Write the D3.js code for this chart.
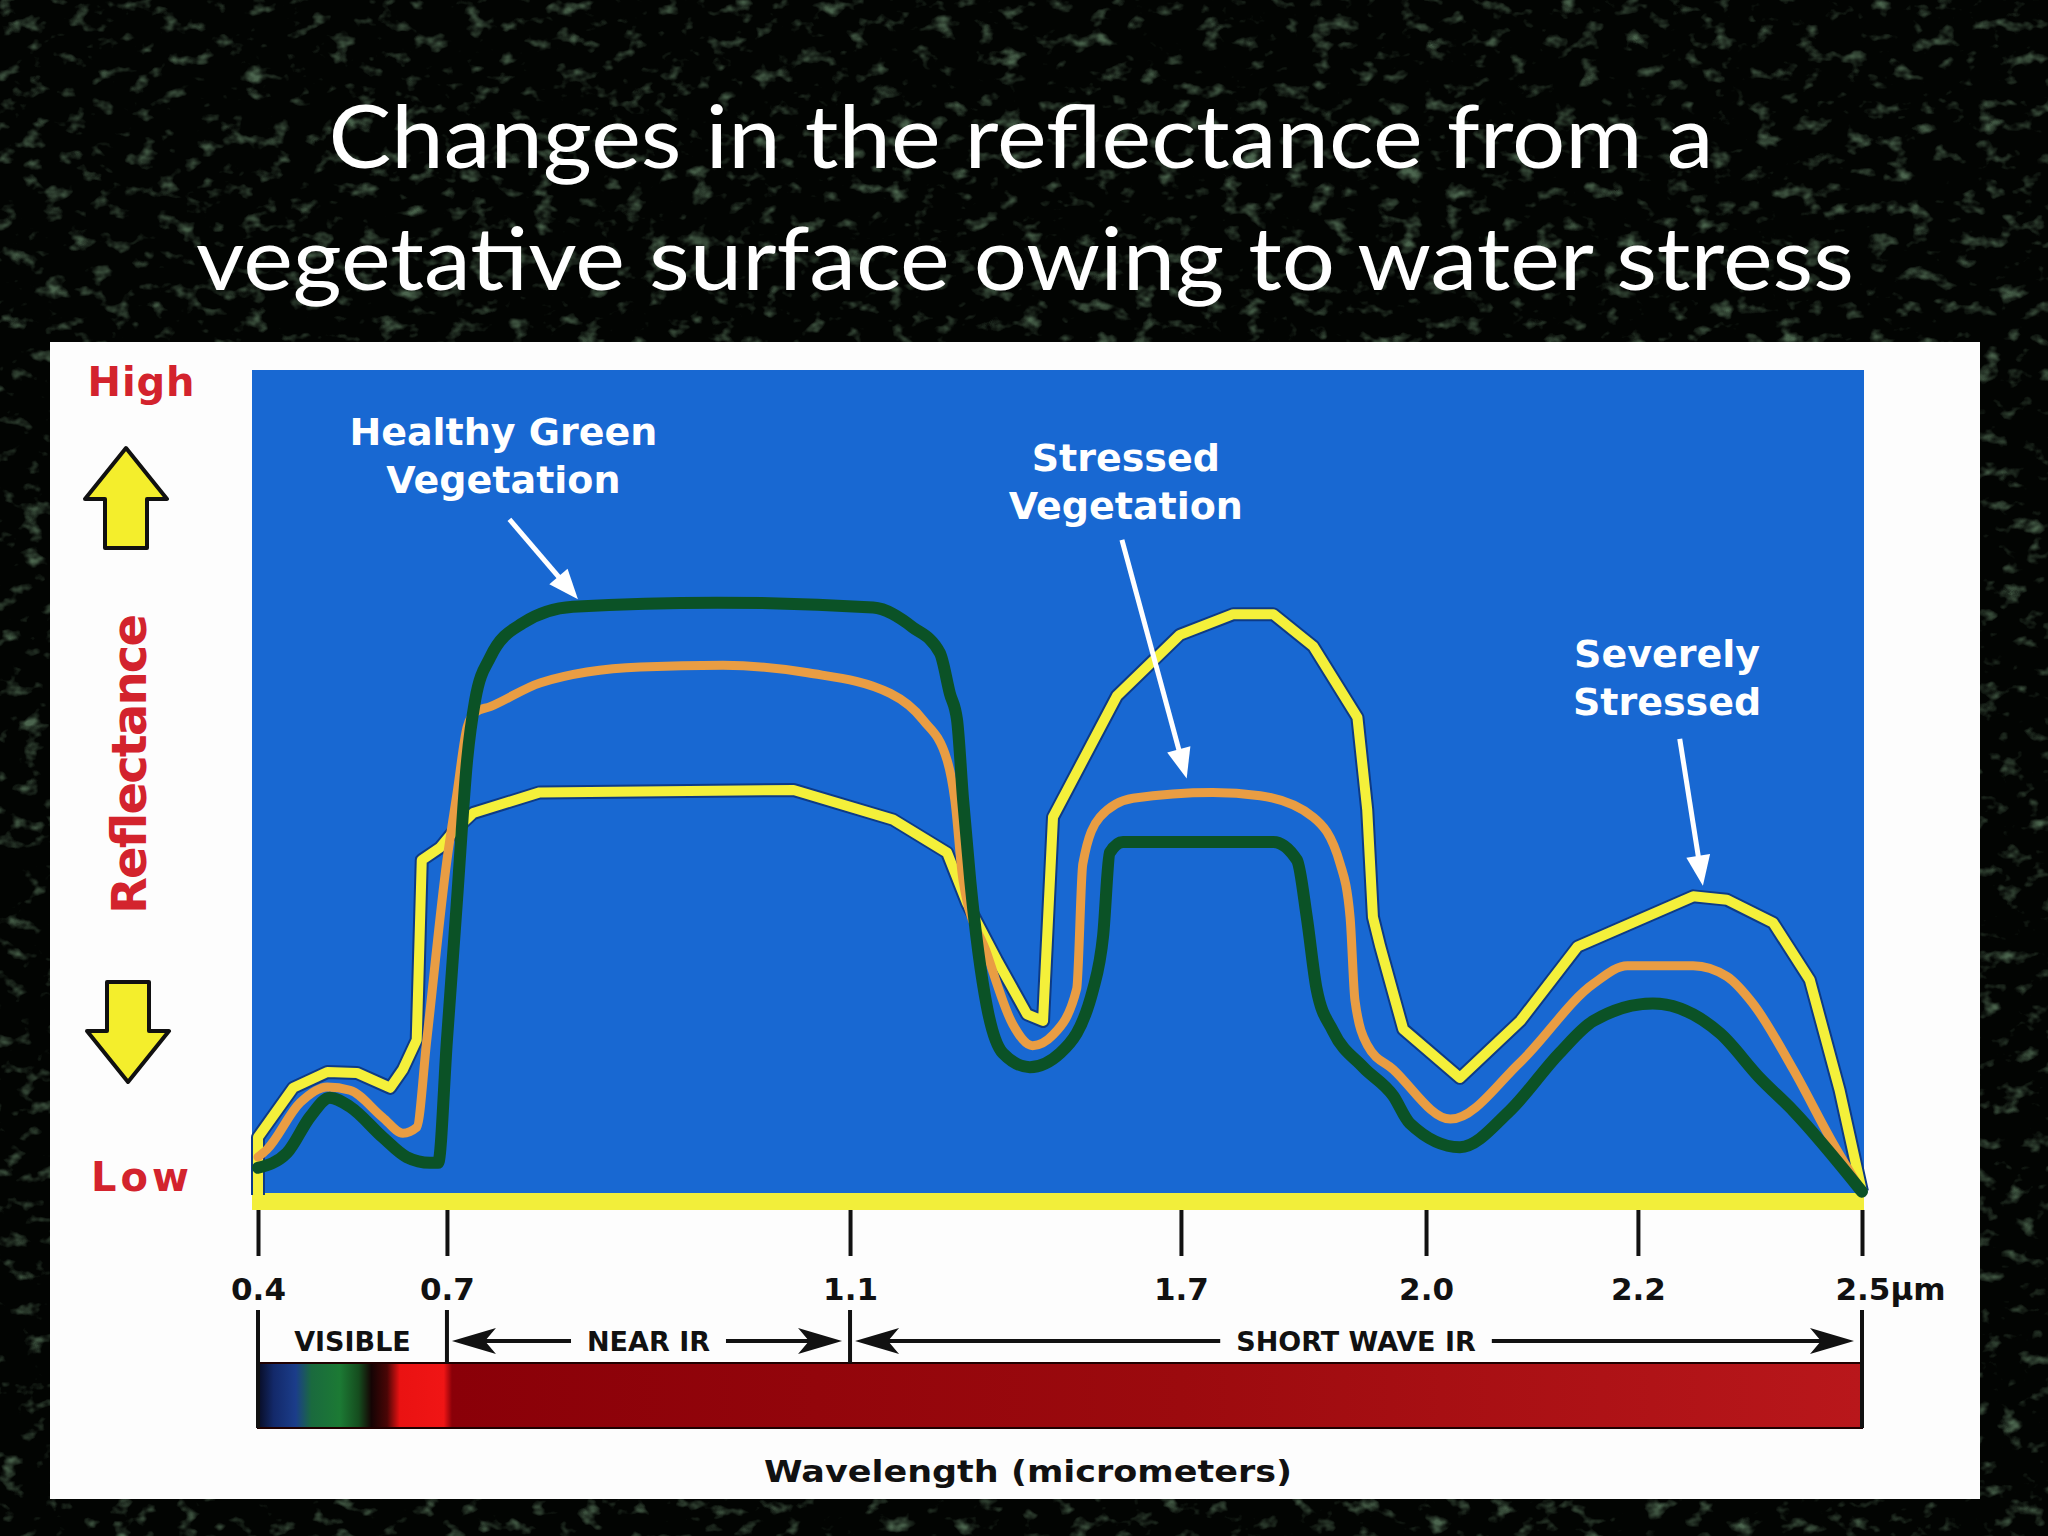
<!DOCTYPE html>
<html>
<head>
<meta charset="utf-8">
<script src="https://cdn.jsdelivr.net/npm/d3@7"></script>
<style>
  html, body { margin: 0; padding: 0; background: #000; }
  svg { display: block; }
  .chartText { font-family: 'DejaVu Sans', sans-serif; font-weight: bold; }
  .title { font-family: Lato, 'Open Sans', sans-serif; fill: #fff; }
</style>
</head>
<body>
<svg id="slide"></svg>
<script>
// wavelength in micrometers, reflectance relative (0 = Low, 100 = High)
const wavelengthTicks = [0.4, 0.7, 1.1, 1.7, 2.0, 2.2, 2.5];
const tickLabels = ['0.4', '0.7', '1.1', '1.7', '2.0', '2.2', '2.5μm'];

const healthy = [[0.400,3.3],[0.446,5.1],[0.483,9.5],[0.514,11.8],[0.546,10.7],[0.598,7.0],[0.636,4.6],
  [0.673,3.9],[0.686,3.9],[0.700,18.8],[0.710,35.8],[0.720,52.7],[0.728,60.0],[0.743,65.2],[0.775,69.3],
  [0.825,71.3],[0.968,71.8],[1.142,71.2],[1.214,68.8],[1.263,65.7],[1.281,60.8],[1.294,57.6],[1.305,47.9],
  [1.318,38.1],[1.348,22.9],[1.377,17.2],[1.426,15.5],[1.481,17.2],[1.541,25.0],[1.559,31.5],[1.571,41.5],
  [1.595,42.8],[1.813,42.8],[1.842,40.6],[1.854,33.7],[1.866,25.0],[1.886,19.9],[1.923,15.5],[1.960,12.0],
  [1.980,8.7],[2.032,5.8],[2.079,10.2],[2.126,17.2],[2.158,21.1],[2.220,23.2],[2.310,19.6],[2.363,14.2],
  [2.408,10.2],[2.5,0.4]];

const stressed = [[0.400,4.6],[0.414,5.5],[0.467,11.2],[0.510,13.1],[0.546,12.7],[0.598,9.4],[0.630,7.5],
  [0.652,8.2],[0.668,18.8],[0.700,40.6],[0.710,48.7],[0.720,56.7],[0.728,58.5],[0.743,59.2],[0.793,62.1],
  [0.892,64.0],[0.974,64.2],[1.058,63.3],[1.173,60.8],[1.232,57.6],[1.276,52.7],[1.290,47.9],[1.305,38.1],
  [1.348,29.3],[1.395,20.7],[1.431,18.1],[1.468,19.4],[1.511,25.0],[1.522,40.1],[1.553,45.8],[1.613,48.1],
  [1.739,48.8],[1.797,48.4],[1.862,45.8],[1.895,40.1],[1.907,33.7],[1.913,23.6],[1.928,18.2],[1.960,15.2],
  [2.023,9.2],[2.089,16.1],[2.158,25.6],[2.190,27.8],[2.274,27.8],[2.319,26.5],[2.354,23.2],[2.408,15.2],
  [2.461,6.3],[2.5,0.4]];

const severe = [[0.400,0],[0.400,7.0],[0.456,13.0],[0.510,14.9],[0.557,14.8],[0.610,13.0],[0.630,15.2],
  [0.652,18.8],[0.660,40.6],[0.689,42.1],[0.706,44.0],[0.726,46.3],[0.792,48.8],[1.044,49.1],[1.178,45.5],
  [1.276,41.5],[1.312,35.4],[1.366,28.5],[1.421,21.9],[1.450,21.1],[1.468,45.8],[1.584,60.5],[1.698,67.9],
  [1.764,70.4],[1.813,70.4],[1.862,66.5],[1.916,57.9],[1.928,46.7],[1.935,33.7],[1.944,30.1],[1.972,20.1],
  [2.032,14.2],[2.089,21.1],[2.143,30.1],[2.274,36.2],[2.319,35.8],[2.381,33.0],[2.430,26.1],[2.470,12.7],
  [2.5,0.4]];

const regions = [
  {name: 'VISIBLE', from: 0.4, to: 0.7, arrows: false},
  {name: 'NEAR IR', from: 0.7, to: 1.1, arrows: true},
  {name: 'SHORT WAVE IR', from: 1.1, to: 2.5, arrows: true}
];

// colour of the wavelength strip under the axis
const spectrum = [[0.4,'#080c24'],[0.425,'#13296a'],[0.46,'#1b3d8a'],[0.485,'#1a6a3e'],[0.53,'#1c7a34'],
  [0.56,'#154c1e'],[0.58,'#150404'],[0.605,'#4a0606'],[0.625,'#ea1212'],[0.695,'#f01515'],[0.705,'#8a0008'],
  [1.7,'#9c0a0e'],[2.5,'#b9171b']];

const annotations = [
  {lines: ['Healthy Green', 'Vegetation'], at: [0.756, 90.9], from: [0.762, 81.9], to: [0.830, 72.2]},
  {lines: ['Stressed', 'Vegetation'], at: [1.600, 87.8], from: [1.593, 79.4], to: [1.707, 50.5]},
  {lines: ['Severely', 'Stressed'], at: [2.239, 64.0], from: [2.256, 55.3], to: [2.287, 37.5]}
];

const titleLines = ['Changes in the reflectance from a', 'vegetative surface owing to water stress'];

let W = 2048, H = 1536;
let layout = {
  panel: {x: 50, y: 342, w: 1930, h: 1157},
  plotLeft: 258, plotRight: 1862, plotTop: 370, plotBottom: 1195,
  tickFrac: [0, 0.1178, 0.3691, 0.5754, 0.7282, 0.8603, 1],
  tickTop: 1210,
  rowTop: 1310, barTop: 1363, barBottom: 1428, rowMid: 1341,
  titleBase: [168, 290], titleCenter: [1021, 1025], titleWidth: [1385, 1658]
};

let svg = d3.select('#slide')
  .attr('width', W)
  .attr('height', H);
let defs = svg.append('defs');

// dark forest background
svg.append('rect')
  .attr('width', W)
  .attr('height', H)
  .attr('fill', '#020402');
let foliage = defs.append('filter')
  .attr('id', 'foliage')
  .attr('x', 0).attr('y', 0).attr('width', '100%').attr('height', '100%');
foliage.append('feTurbulence')
  .attr('type', 'fractalNoise')
  .attr('baseFrequency', '0.045 0.06')
  .attr('numOctaves', 3)
  .attr('seed', 11);
foliage.append('feColorMatrix')
  .attr('type', 'matrix')
  .attr('values', '0 0 0 0 0.13  0 0 0 0 0.24  0 0 0 0 0.14  3.2 0 0 0 -1.85');
svg.append('rect')
  .attr('width', W)
  .attr('height', H)
  .attr('opacity', 0.75)
  .attr('filter', 'url(#foliage)');

// title
svg.selectAll('.title')
  .data(titleLines)
  .join('text')
  .attr('class', 'title')
  .attr('x', (d, i) => layout.titleCenter[i])
  .attr('y', (d, i) => layout.titleBase[i])
  .attr('text-anchor', 'middle')
  .attr('font-size', 88)
  .attr('textLength', (d, i) => layout.titleWidth[i])
  .attr('lengthAdjust', 'spacingAndGlyphs')
  .text(d => d);

// white card
svg.append('rect')
  .attr('x', layout.panel.x)
  .attr('y', layout.panel.y)
  .attr('width', layout.panel.w)
  .attr('height', layout.panel.h)
  .attr('fill', '#fdfdfd');

let x = d3.scaleLinear()
  .domain(wavelengthTicks)
  .range(layout.tickFrac.map(f => layout.plotLeft + f * (layout.plotRight - layout.plotLeft)));
let y = d3.scaleLinear()
  .domain([0, 100])
  .range([layout.plotBottom, layout.plotTop]);

let x0 = x(wavelengthTicks[0]);
let x1 = x(wavelengthTicks[wavelengthTicks.length - 1]);

// blue plot field and yellow base line
svg.append('rect')
  .attr('x', x0 - 6)
  .attr('y', y(100))
  .attr('width', x1 - x0 + 8)
  .attr('height', y(0) - y(100))
  .attr('fill', '#1868d2');
svg.append('rect')
  .attr('x', x0 - 6)
  .attr('y', y(0) - 2)
  .attr('width', x1 - x0 + 8)
  .attr('height', 17)
  .attr('fill', '#f2ee3a');

// reflectance curves
let seriesList = [
  {data: severe, color: '#f4f03a', width: 10, halo: '#0d3a86', curve: d3.curveLinear},
  {data: stressed, color: '#e99d43', width: 9, halo: null, curve: d3.curveMonotoneX},
  {data: healthy, color: '#0b5226', width: 12, halo: null, curve: d3.curveMonotoneX}
];
let curves = svg.append('g').attr('id', 'curves');
for (let s of seriesList) {
  let line = d3.line()
    .x(d => x(d[0]))
    .y(d => y(d[1]))
    .curve(s.curve);
  if (s.halo) {
    curves.append('path')
      .datum(s.data)
      .attr('d', line)
      .attr('fill', 'none')
      .attr('stroke', s.halo)
      .attr('stroke-width', s.width + 4)
      .attr('stroke-linejoin', 'round');
  }
  curves.append('path')
    .datum(s.data)
    .attr('d', line)
    .attr('fill', 'none')
    .attr('stroke', s.color)
    .attr('stroke-width', s.width)
    .attr('stroke-linejoin', 'round')
    .attr('stroke-linecap', 'round');
}

// annotations with white arrows
function arrowHead(tip, from, len, half) {
  let dx = tip[0] - from[0], dy = tip[1] - from[1];
  let n = Math.hypot(dx, dy);
  let ux = dx / n, uy = dy / n;
  let bx = tip[0] - ux * len, by = tip[1] - uy * len;
  return {
    base: [bx + ux * 2, by + uy * 2],
    pts: [tip, [bx - uy * half, by + ux * half], [bx + uy * half, by - ux * half]]
  };
}
let annG = svg.append('g').attr('id', 'annotations');
for (let a of annotations) {
  annG.selectAll(null)
    .data(a.lines)
    .join('text')
    .attr('class', 'chartText')
    .attr('x', x(a.at[0]))
    .attr('y', (d, i) => y(a.at[1]) + i * 48)
    .attr('text-anchor', 'middle')
    .attr('font-size', 38)
    .attr('fill', '#ffffff')
    .text(d => d);
  let from = [x(a.from[0]), y(a.from[1])];
  let tip = [x(a.to[0]), y(a.to[1])];
  let head = arrowHead(tip, from, 30, 12);
  annG.append('line')
    .attr('x1', from[0]).attr('y1', from[1])
    .attr('x2', head.base[0]).attr('y2', head.base[1])
    .attr('stroke', '#ffffff')
    .attr('stroke-width', 5);
  annG.append('polygon')
    .attr('points', head.pts.map(p => p.join(',')).join(' '))
    .attr('fill', '#ffffff');
}

// x axis ticks and labels
let xAxis = d3.axisBottom(x)
  .tickValues(wavelengthTicks)
  .tickFormat((d, i) => tickLabels[i])
  .tickSize(46)
  .tickPadding(22);
let axisG = svg.append('g')
  .attr('transform', `translate(0,${layout.tickTop})`)
  .call(xAxis)
  .attr('font-size', null)
  .attr('font-family', null);
axisG.select('.domain').remove();
axisG.selectAll('.tick line')
  .attr('stroke', '#111')
  .attr('stroke-width', 4);
axisG.selectAll('.tick text')
  .attr('class', 'chartText')
  .attr('font-size', 31)
  .attr('fill', '#111');
axisG.selectAll('.tick text')
  .filter((d, i, n) => i === n.length - 1)
  .attr('text-anchor', 'start')
  .attr('x', -27);

// wavelength colour strip
let grad = defs.append('linearGradient')
  .attr('id', 'spectrum')
  .attr('gradientUnits', 'userSpaceOnUse')
  .attr('x1', x0).attr('x2', x1)
  .attr('y1', 0).attr('y2', 0);
grad.selectAll('stop')
  .data(spectrum)
  .join('stop')
  .attr('offset', d => (x(d[0]) - x0) / (x1 - x0))
  .attr('stop-color', d => d[1]);
svg.append('rect')
  .attr('x', x0)
  .attr('y', layout.barTop)
  .attr('width', x1 - x0)
  .attr('height', layout.barBottom - layout.barTop)
  .attr('fill', 'url(#spectrum)')
  .attr('stroke', '#200000')
  .attr('stroke-width', 2);

// spectral regions row
let bounds = Array.from(new Set(regions.flatMap(r => [r.from, r.to])));
let rowG = svg.append('g').attr('id', 'regions');
rowG.selectAll('line.bound')
  .data(bounds)
  .join('line')
  .attr('class', 'bound')
  .attr('x1', d => x(d)).attr('x2', d => x(d))
  .attr('y1', layout.rowTop)
  .attr('y2', (d, i) => (i === 0 || i === bounds.length - 1) ? layout.barBottom : layout.barTop)
  .attr('stroke', '#111')
  .attr('stroke-width', 4);

function sideArrow(g, tipX, dir) {
  // dir = -1 points left, 1 points right
  let yy = layout.rowMid;
  let pts = [[tipX, yy], [tipX - dir * 44, yy - 13], [tipX - dir * 33, yy], [tipX - dir * 44, yy + 13]];
  g.append('polygon')
    .attr('points', pts.map(p => p.join(',')).join(' '))
    .attr('fill', '#111');
}

for (let r of regions) {
  let cx = (x(r.from) + x(r.to)) / 2;
  let label = rowG.append('text')
    .attr('class', 'chartText')
    .attr('x', cx)
    .attr('y', layout.rowMid + 10)
    .attr('text-anchor', 'middle')
    .attr('font-size', 27)
    .attr('fill', '#111')
    .text(r.name);
  if (!r.arrows) continue;
  let half = label.node().getComputedTextLength() / 2;
  let leftTip = x(r.from) + 5;
  let rightTip = x(r.to) - 8;
  rowG.append('line')
    .attr('x1', leftTip + 30).attr('x2', cx - half - 16)
    .attr('y1', layout.rowMid).attr('y2', layout.rowMid)
    .attr('stroke', '#111').attr('stroke-width', 4);
  rowG.append('line')
    .attr('x1', cx + half + 16).attr('x2', rightTip - 30)
    .attr('y1', layout.rowMid).attr('y2', layout.rowMid)
    .attr('stroke', '#111').attr('stroke-width', 4);
  sideArrow(rowG, leftTip, -1);
  sideArrow(rowG, rightTip, 1);
}

svg.append('text')
  .attr('class', 'chartText')
  .attr('x', 1028)
  .attr('y', 1482)
  .attr('text-anchor', 'middle')
  .attr('font-size', 31)
  .attr('textLength', 528)
  .attr('lengthAdjust', 'spacingAndGlyphs')
  .attr('fill', '#111')
  .text('Wavelength (micrometers)');

// reflectance scale on the left
let red = '#d3232d';
svg.append('text')
  .attr('class', 'chartText')
  .attr('x', 141).attr('y', 396)
  .attr('text-anchor', 'middle')
  .attr('font-size', 40)
  .attr('textLength', 107)
  .attr('fill', red)
  .text('High');
svg.append('text')
  .attr('class', 'chartText')
  .attr('x', 140).attr('y', 1191)
  .attr('text-anchor', 'middle')
  .attr('font-size', 40)
  .attr('textLength', 98)
  .attr('fill', red)
  .text('Low');
svg.append('text')
  .attr('class', 'chartText')
  .attr('transform', 'translate(146,764) rotate(-90)')
  .attr('text-anchor', 'middle')
  .attr('font-size', 48)
  .attr('textLength', 300)
  .attr('fill', red)
  .text('Reflectance');

let upArrow = [[0, 0], [41, 51], [21, 51], [21, 100], [-21, 100], [-21, 51], [-41, 51]];
svg.append('polygon')
  .attr('points', upArrow.map(p => [126 + p[0], 448 + p[1]].join(',')).join(' '))
  .attr('fill', '#f4ee2c')
  .attr('stroke', '#111')
  .attr('stroke-width', 4)
  .attr('stroke-linejoin', 'round');
svg.append('polygon')
  .attr('points', upArrow.map(p => [128 + p[0], 1082 - p[1]].join(',')).join(' '))
  .attr('fill', '#f4ee2c')
  .attr('stroke', '#111')
  .attr('stroke-width', 4)
  .attr('stroke-linejoin', 'round');
</script>
</body>
</html>
